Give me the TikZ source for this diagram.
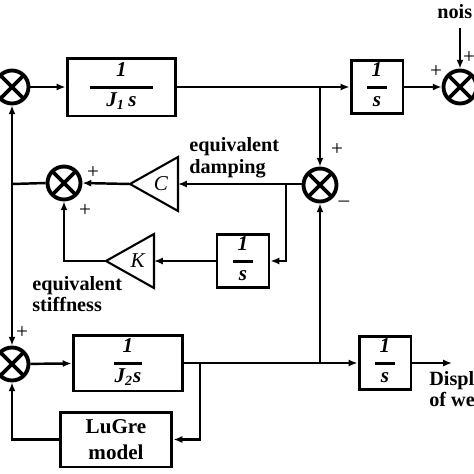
\documentclass[tikz,border=0pt]{standalone}
\usepackage{fontspec}
\setmainfont{Liberation Serif}
\usetikzlibrary{arrows.meta}

\newcommand{\blkfrac}[3]{\begin{tabular}{@{}c@{}}\textbf{\textit{#1}}\\[-4pt]\rule[2pt]{#3}{1.6pt}\\[-5pt]\textbf{\textit{#2}}\end{tabular}}

\tikzset{
  sumjunc/.style={circle, draw, line width=2.2pt, minimum size=0.66cm, inner sep=0pt,
    path picture={\draw[line width=2.2pt] (path picture bounding box.north west)--(path picture bounding box.south east)
      (path picture bounding box.north east)--(path picture bounding box.south west);}},
  blk/.style={draw, line width=1.7pt, inner sep=0pt, font=\fontsize{12}{13}\selectfont},
  sig/.style={-{Latex[length=5pt,width=4pt]}, line width=1.4pt},
  wire/.style={line width=1.4pt},
  lbl/.style={font=\bfseries\fontsize{11.5}{12.2}\selectfont, align=left, inner sep=0pt},
  sgn/.style={font=\fontsize{12}{12}\selectfont, inner sep=0pt},
  gain/.style={line width=1.2pt, line join=miter}
}

\begin{document}
\begin{tikzpicture}[x=0.02cm,y=-0.02cm]
\useasboundingbox (0,0) rectangle (474,474);

% summing points
\node[sumjunc] (sumA) at (12,87) {};
\node[sumjunc] (sumR) at (460,87) {};
\node[sumjunc] (sumM) at (320,185) {};
\node[sumjunc] (sumL) at (64,183) {};
\node[sumjunc] (sumB) at (12,364) {};

% blocks
\node[blk, minimum width=2.18cm, minimum height=1.16cm] (blkJa) at (121.5,87) {\blkfrac{1}{J\textsubscript{1}\,s}{1.28cm}};
\node[blk, minimum width=1.04cm, minimum height=0.98cm] (blkIa) at (377,87) {\blkfrac{1}{s}{0.4cm}};
\node[blk, minimum width=1.04cm, minimum height=0.96cm] (blkIm) at (243,261) {\blkfrac{1}{s}{0.4cm}};
\node[blk, minimum width=2.2cm, minimum height=1.12cm] (blkJb) at (128,363) {\blkfrac{1}{J\textsubscript{2}s}{0.56cm}};
\node[blk, minimum width=1.04cm, minimum height=1.0cm] (blkIb) at (385,363) {\blkfrac{1}{s}{0.4cm}};
\node[blk, minimum width=2.24cm, minimum height=1.1cm, align=center, font=\bfseries\fontsize{12}{15}\selectfont] (lugre) at (116,439.5) {LuGre\\model};

% gains
\coordinate (Ctip) at (130,184);
\coordinate (Cin) at (178,184);
\draw[gain] (Ctip) -- (178,157) -- (178,211) -- cycle;
\node at (161,184) {\fontsize{12}{12}\selectfont\textit{C}};
\coordinate (Ktip) at (106,261);
\coordinate (Kin) at (154,261);
\draw[gain] (Ktip) -- (154,234) -- (154,288) -- cycle;
\node at (138,261) {\fontsize{12}{12}\selectfont\textit{K}};

% branch points
\coordinate (brT) at (320,87);
\coordinate (brD) at (286,184);
\coordinate (brL) at (12,184);
\coordinate (brB) at (320,363);
\coordinate (brLu) at (200,363);
\coordinate (noisein) at (460,28);
\coordinate (dispout) at (452,363);

% connectors
\draw[sig] (sumA) -- (blkJa);
\draw[wire] (blkJa.east) -- (brT);
\draw[sig] (brT) -- (blkIa.west);
\draw[sig] (blkIa) -- (sumR);
\draw[sig] (noisein) -- (sumR.north);
\draw[sig] (brT) -- (sumM.north);
\draw[sig] (sumM.west |- Cin) -- (Cin);
\draw[sig] (brD) |- (blkIm.east);
\draw[sig] (blkIm.west) -- (Kin);
\draw[sig] (Ktip) -| (sumL.south);
\draw[sig] (Ctip) -- (sumL.east);
\draw[wire] (sumL.west) -- (brL);
\draw[sig] (brL) -- (sumA.south);
\draw[sig] (brL) -- (sumB.north);
\draw[sig] (sumB) -- (blkJb);
\draw[wire] (blkJb.east) -- (brB);
\draw[sig] (brB) -- (blkIb.west);
\draw[sig] (brB) -- (sumM.south);
\draw[sig] (brLu) |- (lugre.east);
\draw[sig] (lugre.west) -| (sumB.south);
\draw[sig] (blkIb) -- (dispout);

% labels
\node[lbl, anchor=west] at (189,157.5) {equivalent\\damping};
\node[lbl, anchor=west] at (32,294) {equivalent\\stiffness};
\node[lbl, anchor=west] at (437,12) {nois};
\node[lbl, anchor=north west] at (429,371) {Displ\\of we};

% signs
\node[sgn] at (436,72) {+};
\node[sgn] at (469,58) {+};
\node[sgn] at (337,150) {+};
\node[sgn] at (344,204) {--};
\node[sgn] at (93,173) {+};
\node[sgn] at (85,211) {+};
\node[sgn] at (22,333) {+};
\end{tikzpicture}
\end{document}
